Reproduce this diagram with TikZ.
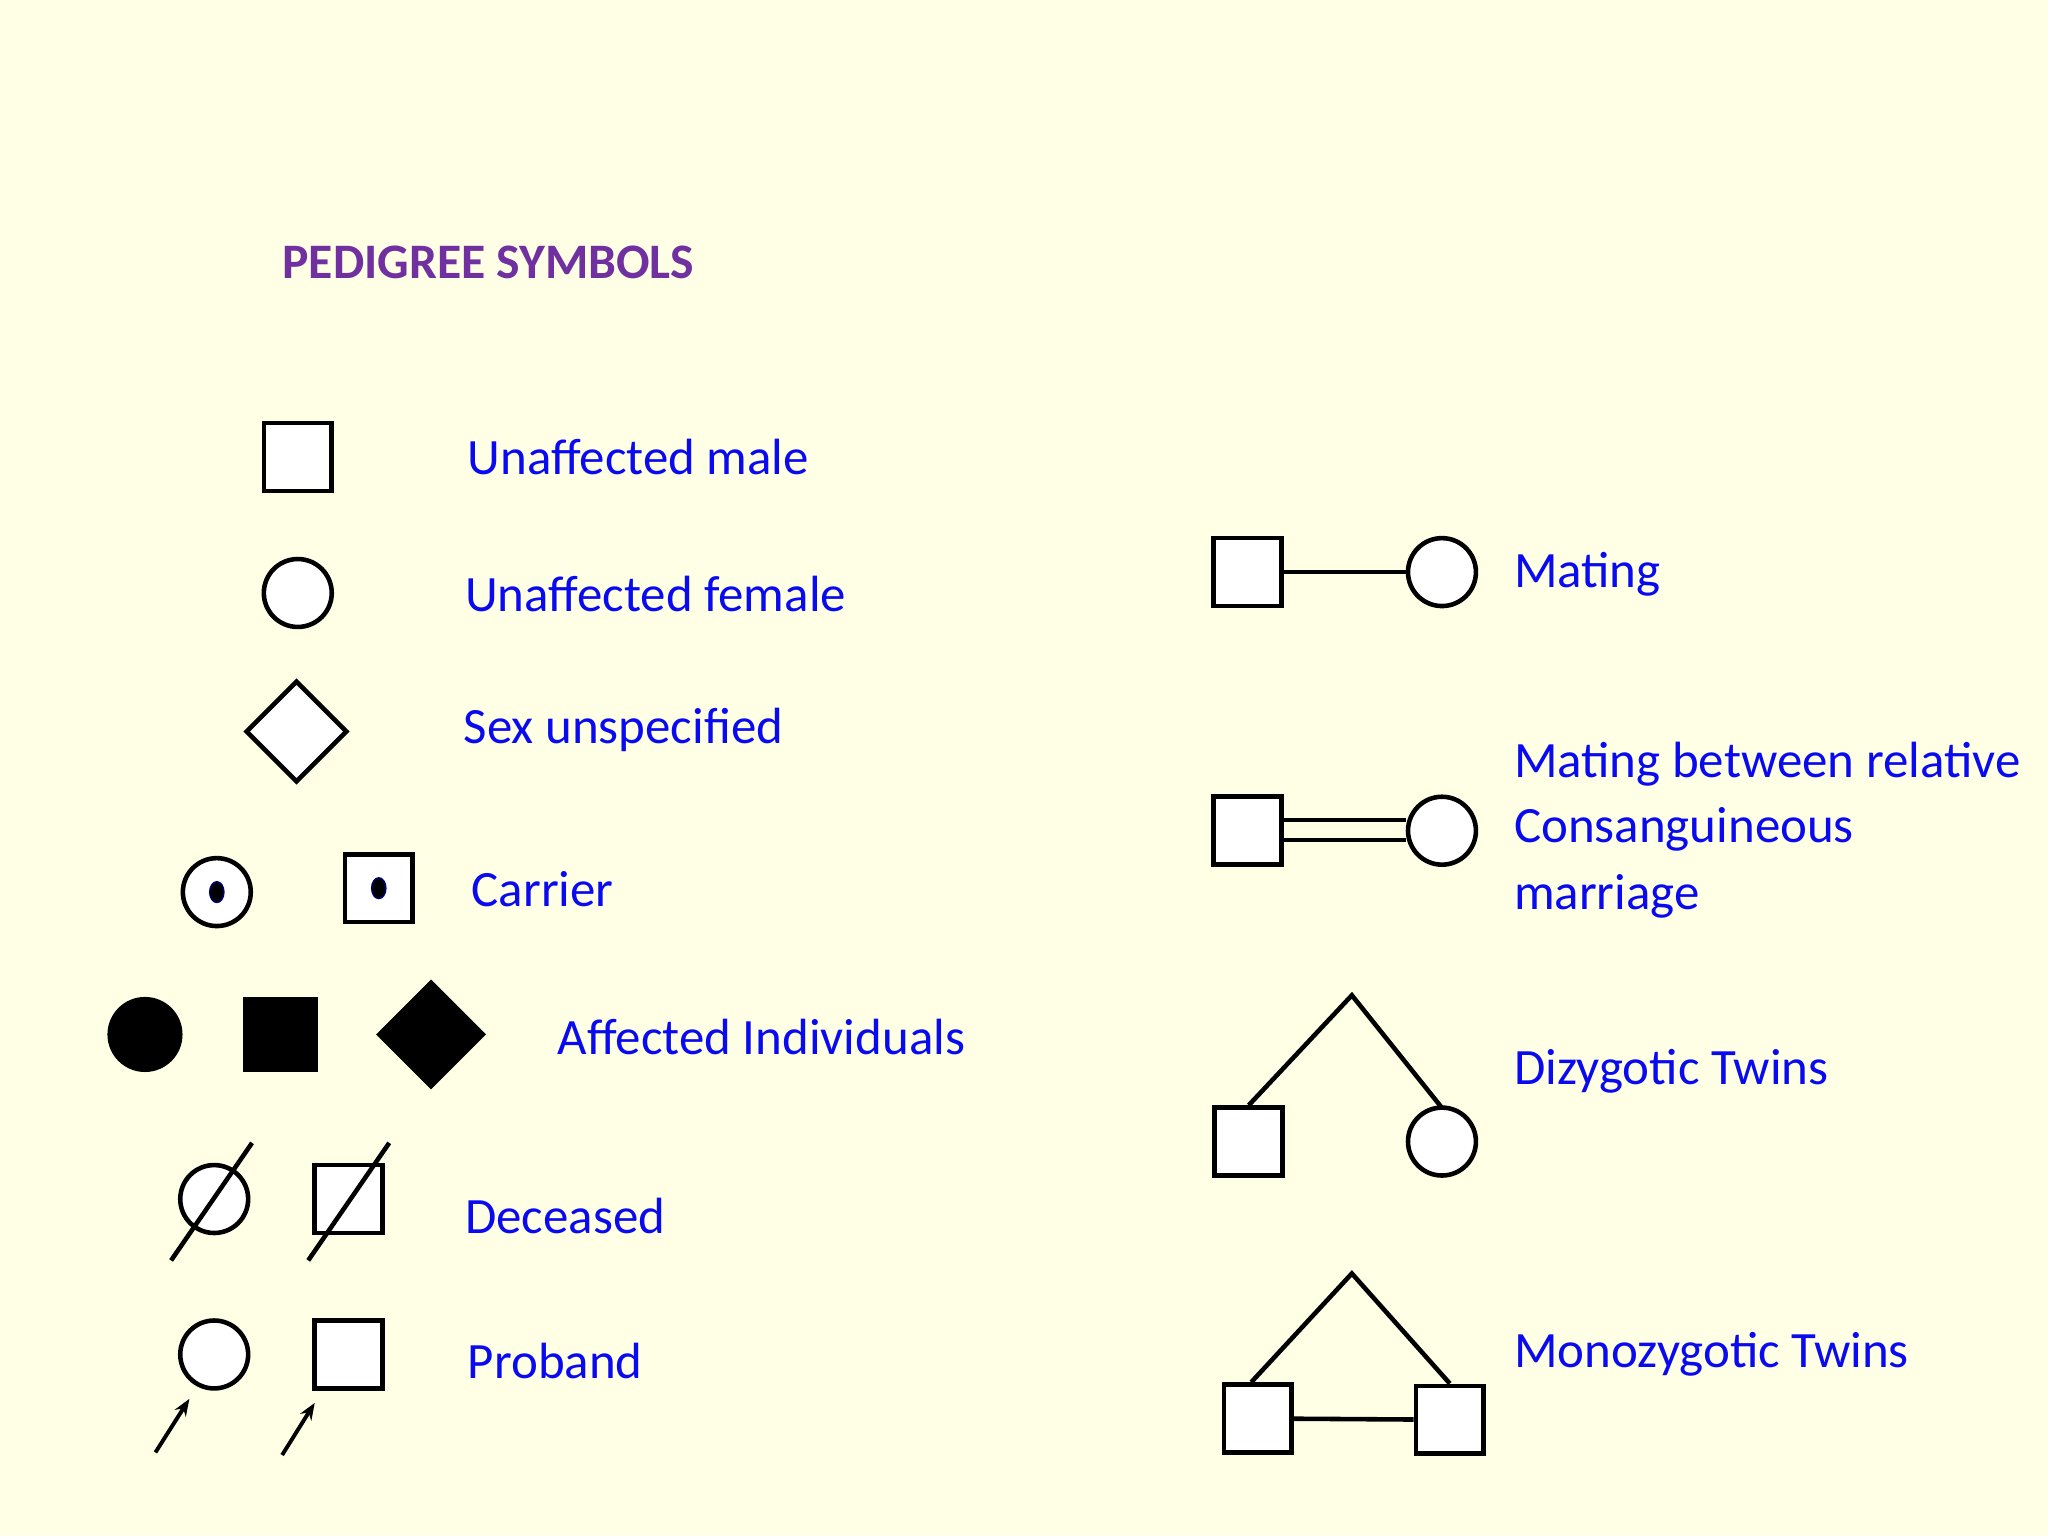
\documentclass[tikz,border=0pt]{standalone}
\usepackage{fontspec}
\setmainfont{Carlito}
\usetikzlibrary{shapes.geometric,arrows.meta}
\definecolor{bg}{RGB}{255,255,230}
\definecolor{lbl}{RGB}{10,10,240}
\definecolor{ttl}{RGB}{112,48,160}
\begin{document}
\begin{tikzpicture}[x=1pt,y=-1pt,
  sym/.style={draw=black,line width=3.5pt,fill=white,inner sep=0pt,minimum size=#1},
  sq/.style={sym=52pt,rectangle},
  ci/.style={sym=52pt,circle},
  di/.style={sym=54pt,rectangle,rotate=45},
  aff/.style={fill=black},
  txt/.style={anchor=west,text=lbl,font=\fontsize{39}{46}\selectfont,inner sep=0pt},
  ln/.style={line width=3.5pt}]
\fill[bg] (0,0) rectangle (1568,1176);
\useasboundingbox (0,0) rectangle (1568,1176);
\node[anchor=west,text=ttl,font=\bfseries\fontsize{38}{44}\selectfont,inner sep=0pt] (title) at (216,201) {PEDIGREE SYMBOLS};
% left column
\node[sq] (um) at (228,350) {};
\node[txt] (tum) at (358,350) {Unaffected male};
\node[ci] (uf) at (228,454) {};
\node[txt] (tuf) at (356,455) {Unaffected female};
\node[di] (su) at (227,560) {};
\node[txt] (tsu) at (355,559) {Sex unspecified};
\node[ci] (cc) at (166,683) {};
\fill[black,draw=blue!50!black,line width=1pt] (cc.center) ellipse (5.5pt and 8pt);
\node[sq] (cs) at (290,680) {};
\fill[black,draw=blue!50!black,line width=1pt] (cs.center) ellipse (5.5pt and 8pt);
\node[txt] (tc) at (361,681) {Carrier};
\node[ci,aff,minimum size=54pt] (ac) at (111,792) {};
\node[sq,aff,minimum size=54pt] (as) at (215,792) {};
\node[di,aff,minimum size=56pt] (ad) at (330,792) {};
\node[txt] (ta) at (427,794) {Affected Individuals};
\node[ci] (dc) at (164,918) {};
\node[sq] (ds) at (267,918) {};
\coordinate (dc1) at (131,965); \coordinate (dc2) at (193,875);
\coordinate (ds1) at (236,965); \coordinate (ds2) at (298,875);
\draw[ln] (dc1) -- (dc2);
\draw[ln] (ds1) -- (ds2);
\node[txt] (td) at (356,931) {Deceased};
\node[ci] (pc) at (164,1037) {};
\node[sq] (ps) at (267,1037) {};
\coordinate (pa1) at (119,1112); \coordinate (pa2) at (145,1071);
\coordinate (pb1) at (216,1114); \coordinate (pb2) at (241,1074);
\draw[line width=3pt,-{Stealth[length=13pt,width=10pt]}] (pa1) -- (pa2);
\draw[line width=3pt,-{Stealth[length=13pt,width=10pt]}] (pb1) -- (pb2);
\node[txt] (tp) at (358,1042) {Proband};
% right column
\node[sq] (m1) at (955,438) {};
\node[ci] (m2) at (1104,438) {};
\draw[line width=3pt] (m1) -- (m2);
\node[txt] (tm) at (1159,440) {Mating};
\node[sq] (c1) at (955,636) {};
\node[ci] (c2) at (1104,636) {};
\draw[line width=3pt] ([yshift=-7pt]c1.east) -- ([yshift=-7pt]c2.west);
\draw[line width=3pt] ([yshift=8pt]c1.east) -- ([yshift=8pt]c2.west);
\node[txt] (tc1) at (1159,585) {Mating between relative};
\node[txt] (tc2) at (1159,635) {Consanguineous};
\node[txt] (tc3) at (1159,686) {marriage};
\coordinate (dz) at (1035,762);
\node[sq] (z1) at (956,874) {};
\node[ci] (z2) at (1104,874) {};
\draw[line width=3.5pt] (z1.north) -- (dz) -- ([yshift=-2pt]z2.north);
\node[txt] (tdz) at (1159,820) {Dizygotic Twins};
\coordinate (mz) at (1035,975);
\node[sq] (y1) at (963,1086) {};
\node[sq] (y2) at (1110,1087) {};
\draw[line width=3.5pt] ([xshift=-5pt]y1.north) -- (mz) -- (y2.north);
\draw[line width=3.5pt] (y1) -- (y2);
\node[txt] (tmz) at (1159,1037) {Monozygotic Twins};
\end{tikzpicture}
\end{document}
